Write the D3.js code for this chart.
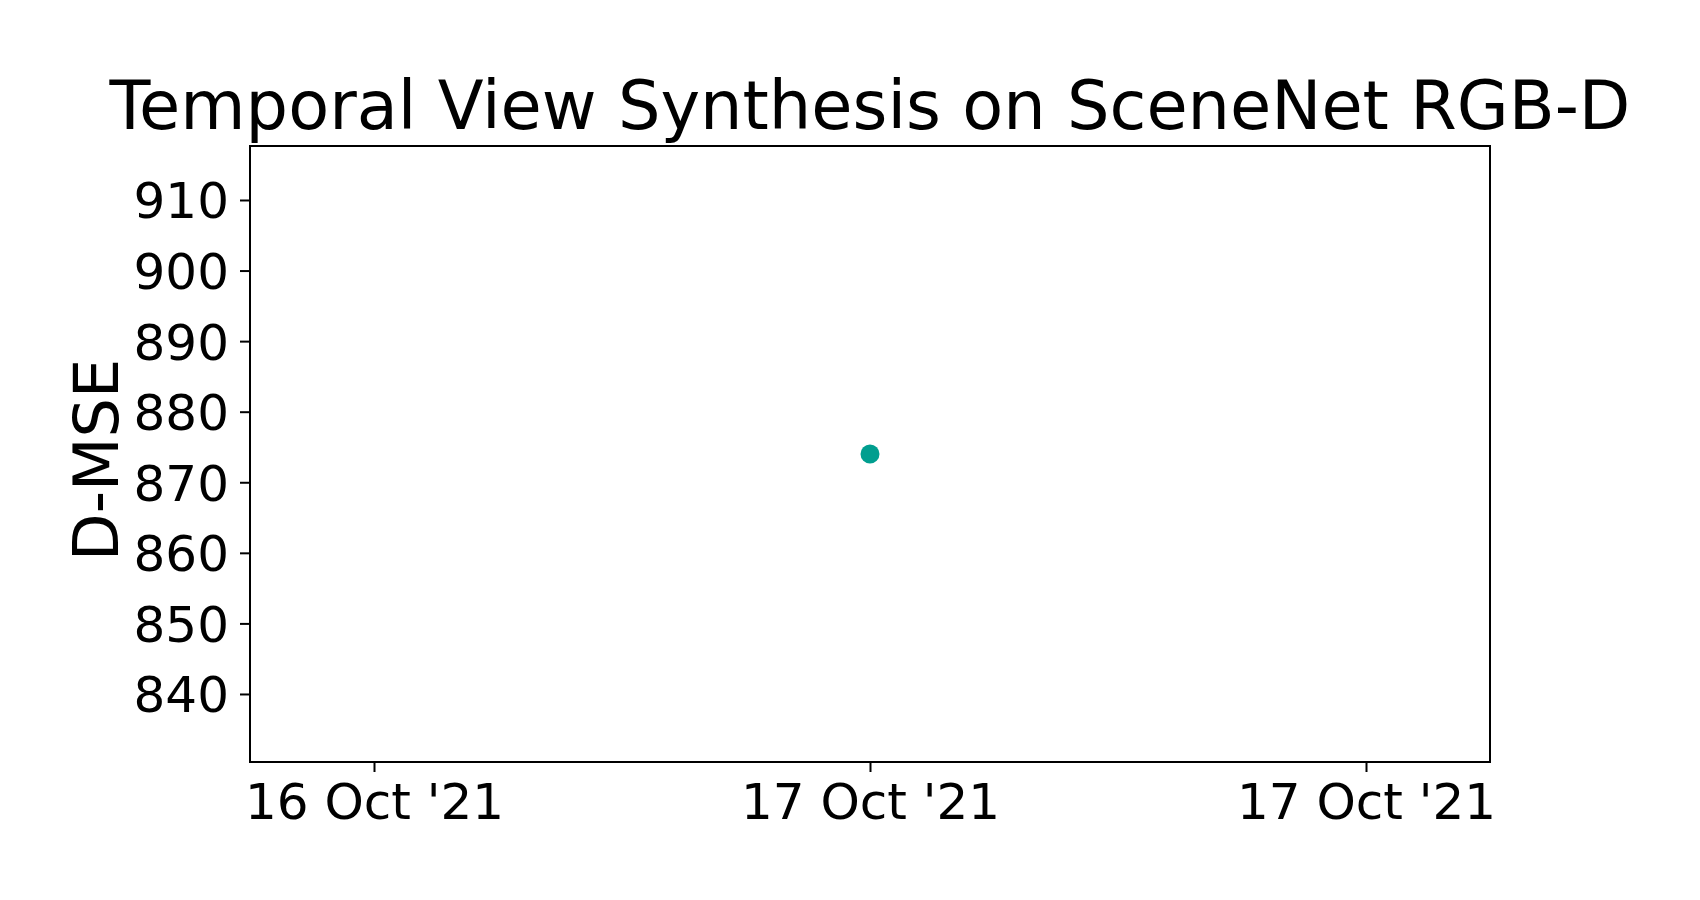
<!DOCTYPE html>
<html>
<head>
<meta charset="utf-8">
<script src="https://cdn.jsdelivr.net/npm/d3@7"></script>
<style>
  html, body { margin: 0; padding: 0; background: #fff; }
  svg { display: block; font-family: 'DejaVu Sans', sans-serif; }
</style>
</head>
<body>
<div id="chart"></div>
<script>
// data
const dates = [new Date(2021, 9, 17, 0, 0)];
const values = [874];
const yTicks = [840, 850, 860, 870, 880, 890, 900, 910];
const xTicks = [new Date(2021, 9, 16, 12), new Date(2021, 9, 17, 0), new Date(2021, 9, 17, 12)];
const xDomain = [new Date(2021, 9, 16, 9), new Date(2021, 9, 17, 15)];
const yDomain = [830.36, 917.65];

const width = 1700;
const height = 900;
const plot = { left: 250, right: 1490, top: 146, bottom: 762 };

const svg = d3
  .select('#chart')
  .append('svg')
  .attr('width', width)
  .attr('height', height);

const x = d3.scaleTime().domain(xDomain).range([plot.left, plot.right]);
const y = d3.scaleLinear().domain(yDomain).range([plot.bottom, plot.top]);

const fmt = d3.timeFormat("%d %b '%y");

const yAxis = d3
  .axisLeft(y)
  .tickValues(yTicks)
  .tickSize(10)
  .tickPadding(11)
  .tickFormat(d => d);

const xAxis = d3
  .axisBottom(x)
  .tickValues(xTicks)
  .tickSize(10)
  .tickPadding(9)
  .tickFormat(fmt);

const gy = svg
  .append('g')
  .attr('transform', `translate(${plot.left},0)`)
  .call(yAxis);

const gx = svg
  .append('g')
  .attr('transform', `translate(0,${plot.bottom})`)
  .call(xAxis);

[gx, gy].forEach(g => {
  g.select('.domain').remove();
  g.selectAll('line').attr('stroke', '#000').attr('stroke-width', 2);
  g.selectAll('text')
    .attr('fill', '#000')
    .style('font-size', '50px')
    .style('font-family', "'DejaVu Sans', sans-serif");
});
gy.selectAll('text').attr('dy', '0.36em');
gx.selectAll('text').attr('dy', '0.76em');

// frame
svg
  .append('rect')
  .attr('x', plot.left)
  .attr('y', plot.top)
  .attr('width', plot.right - plot.left)
  .attr('height', plot.bottom - plot.top)
  .attr('fill', 'none')
  .attr('stroke', '#000')
  .attr('stroke-width', 2);

// points
svg
  .selectAll('.dot')
  .data(dates.map((d, i) => ({ date: d, value: values[i] })))
  .enter()
  .append('circle')
  .attr('class', 'dot')
  .attr('cx', d => x(d.date))
  .attr('cy', d => y(d.value))
  .attr('r', 9.5)
  .attr('fill', '#009e8f');

// title
svg
  .append('text')
  .attr('x', (plot.left + plot.right) / 2)
  .attr('y', 129)
  .attr('text-anchor', 'middle')
  .style('font-size', '67px')
  .text('Temporal View Synthesis on SceneNet RGB-D');

// y label
svg
  .append('text')
  .attr('transform', `translate(118,${(plot.top + plot.bottom) / 2 + 6}) rotate(-90)`)
  .attr('text-anchor', 'middle')
  .style('font-size', '62px')
  .text('D-MSE');
</script>
</body>
</html>
